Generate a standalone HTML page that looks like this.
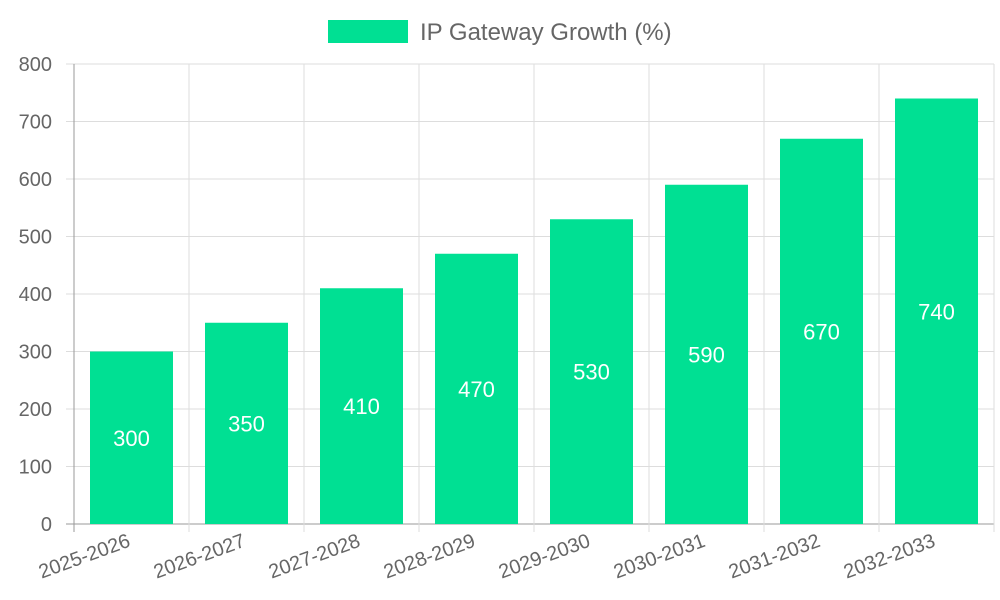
<!DOCTYPE html>
<html><head><meta charset="utf-8">
<style>
html,body{margin:0;padding:0;background:#fff;}
svg{display:block;font-family:"Liberation Sans",sans-serif;}
</style></head>
<body>
<svg id="chart" width="1000" height="600" viewBox="0 0 1000 600">
  <g id="legend">
    <rect x="328" y="20" width="80" height="23" fill="#00e093"/>
    <text x="420" y="40" font-size="24" fill="#666">IP Gateway Growth (%)</text>
  </g>
  <g id="grid"></g>
  <g id="bars"></g>
  <g id="labels"></g>
</svg>
<script>
const categories = ["2025-2026","2026-2027","2027-2028","2028-2029","2029-2030","2030-2031","2031-2032","2032-2033"];
const values = [300,350,410,470,530,590,670,740];
const yTicks = [0,100,200,300,400,500,600,700,800];

const NS = "http://www.w3.org/2000/svg";
const plotLeft = 74, plotRight = 994, topY = 64, bottomY = 524, yMax = 800;
const band = (plotRight - plotLeft) / categories.length;
const barW = 83;
const yScale = v => bottomY - (v / yMax) * (bottomY - topY);
const xc = i => plotLeft + band * (i + 0.5);
function mk(tag, attrs, parent) {
  const e = document.createElementNS(NS, tag);
  for (const k in attrs) e.setAttribute(k, attrs[k]);
  parent.appendChild(e);
  return e;
}
const grid = document.getElementById("grid");
const bars = document.getElementById("bars");
const labels = document.getElementById("labels");

yTicks.forEach(t => {
  const l = mk("line", {x1: plotLeft - 8, x2: plotRight, y1: yScale(t), y2: yScale(t), stroke: t === 0 ? "#999" : "#ddd", "stroke-width": 1}, grid);
  
  
  const tx = mk("text", {x: plotLeft - 22, y: yScale(t) + 7, "text-anchor": "end", "font-size": 20, fill: "#666"}, grid);
  tx.textContent = t;
  
  
});
for (let i = 0; i <= categories.length; i++) {
  const x = plotLeft + band * i;
  const l = mk("line", {x1: x, x2: x, y1: topY, y2: bottomY + 8, stroke: i === 0 ? "#999" : "#ddd", "stroke-width": 1}, grid);
  
  
}
categories.forEach((c, i) => {
  const v = values[i];
  const r = mk("rect", {x: xc(i) - barW / 2, y: yScale(v), width: barW, height: bottomY - yScale(v), fill: "#00e093"}, bars);
  
  
  const vt = mk("text", {x: xc(i), y: (yScale(v) + bottomY) / 2 + 8, "text-anchor": "middle", "font-size": 22, fill: "#fff"}, labels);
  vt.textContent = v;
  
  
  const xt = mk("text", {x: xc(i), y: 546, "text-anchor": "end", "font-size": 20, fill: "#666", transform: "rotate(-20 " + xc(i) + " 546)"}, labels);
  xt.textContent = c;
  
  
});
</script>
</body></html>
